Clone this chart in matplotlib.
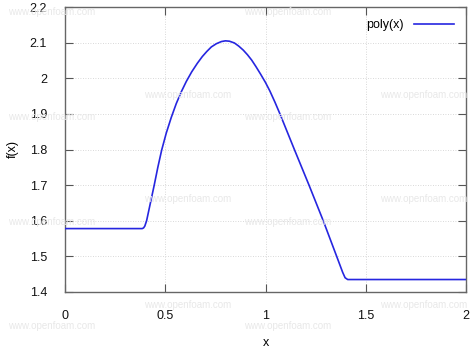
import matplotlib
matplotlib.use("Agg")
import matplotlib.pyplot as plt
from matplotlib.ticker import MultipleLocator

plt.rcParams["font.family"] = ["Liberation Sans", "DejaVu Sans"]

# curve
x_vals = [0.0, 0.385, 0.392, 0.398, 0.407, 0.426, 0.445, 0.463, 0.482, 0.505,
          0.53, 0.555, 0.58, 0.605, 0.632, 0.66, 0.685, 0.707, 0.73, 0.755,
          0.78, 0.8, 0.82, 0.845, 0.867, 0.889, 0.91, 0.931, 0.952, 0.975,
          1.0, 1.022, 1.047, 1.072, 1.144, 1.217, 1.288, 1.355, 1.385, 1.397,
          1.41, 2.0]
y_vals = [1.578, 1.578, 1.580, 1.585, 1.600, 1.650, 1.700, 1.750, 1.798, 1.846,
          1.890, 1.929, 1.962, 1.991, 2.018, 2.042, 2.061, 2.075, 2.088, 2.097,
          2.103, 2.105, 2.104, 2.099, 2.090, 2.079, 2.066, 2.051, 2.033, 2.012,
          1.988, 1.964, 1.933, 1.900, 1.800, 1.700, 1.600, 1.500, 1.455, 1.440,
          1.435, 1.435]
series_label = "poly(x)"

# watermark positions in figure pixels (x centre, y from top)
wm_x = [52, 288, 52, 288, 52, 288, 52, 288, 188, 424, 188, 424, 188, 424]
wm_y = [12, 12, 117, 117, 222, 222, 326, 326, 95, 95, 199, 199, 305, 305]

W, H = 474, 350
fig = plt.figure(figsize=(W / 100, H / 100), dpi=100)
ax = fig.add_axes([65 / W, 1 - 292 / H, (466 - 65) / W, (292 - 7) / H])

ax.plot(x_vals, y_vals, color="#2626e0", lw=1.2, label=series_label, zorder=3)

ax.set_xlim(0, 2)
ax.set_ylim(1.4, 2.2)
ax.xaxis.set_major_locator(MultipleLocator(0.5))
ax.yaxis.set_major_locator(MultipleLocator(0.1))
ax.xaxis.set_major_formatter(plt.FuncFormatter(lambda v, p: f"{v:g}"))
ax.yaxis.set_major_formatter(plt.FuncFormatter(lambda v, p: f"{v:g}"))

ax.tick_params(direction="in", length=6, width=0.8, color="#555555",
               top=True, right=True, labelsize=9, labelcolor="#111111")
ax.tick_params(axis="x", pad=13)
ax.tick_params(axis="y", pad=13)
for s in ax.spines.values():
    s.set_color("#666666")
    s.set_linewidth(1.0)
ax.grid(True, color="#cccccc", linestyle=(0, (1, 2)), linewidth=0.6)

ax.set_xlabel("x", fontsize=9, labelpad=11)
ax.set_ylabel("f(x)", fontsize=9, labelpad=8)

leg = ax.legend(loc="upper right", frameon=False, fontsize=9,
                handlelength=3.2, markerfirst=False, borderaxespad=0.55,
                handletextpad=0.8)

for wx, wy in zip(wm_x, wm_y):
    fig.text(wx / W, 1 - wy / H, "www.openfoam.com", fontsize=7,
             color="#e8e8e8", ha="center", va="center", zorder=0)

fig.savefig("out.png", dpi=100)
